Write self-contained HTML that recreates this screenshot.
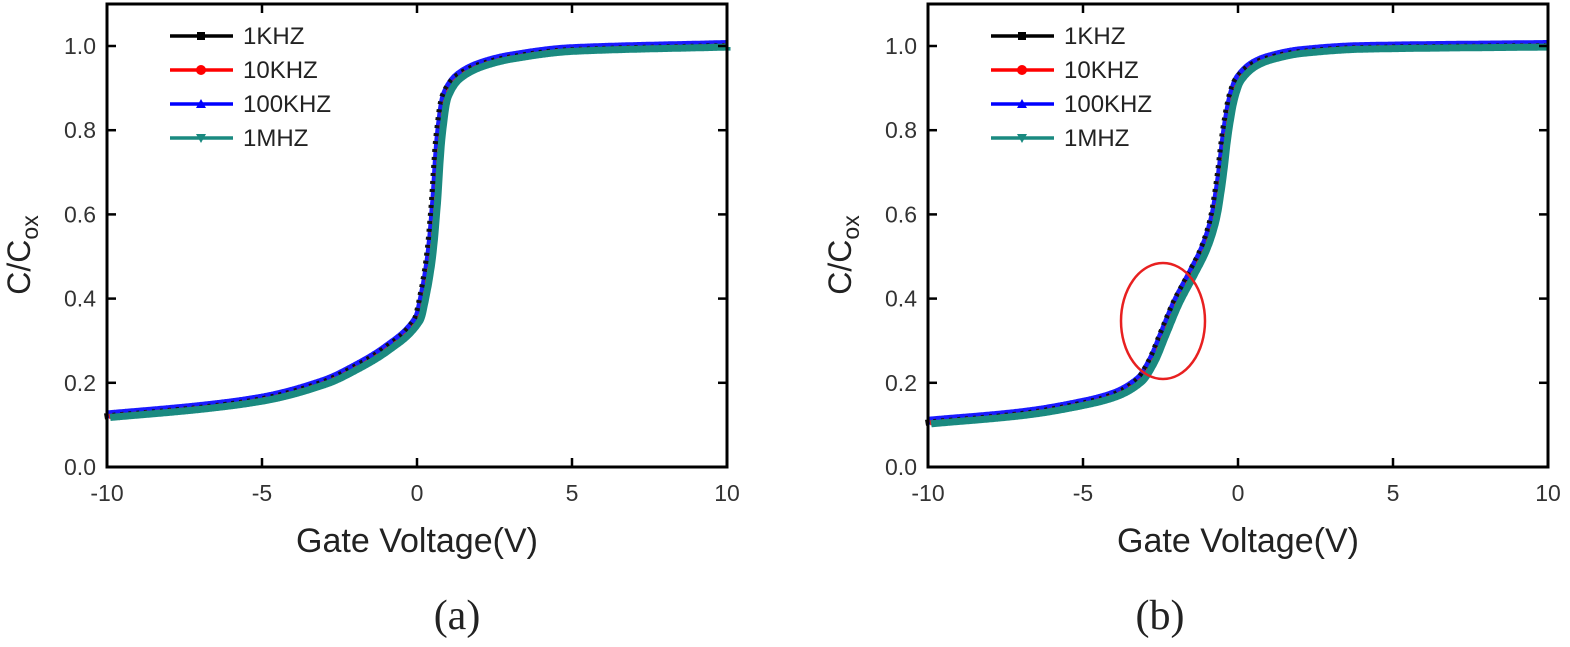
<!DOCTYPE html>
<html><head><style>body{margin:0;background:#fff}svg{display:block}</style></head>
<body>
<svg id="s" width="1570" height="647" xmlns="http://www.w3.org/2000/svg" font-family="Liberation Sans, Arial, sans-serif"></svg>
<script>
const s=document.getElementById('s');let h='';
function mono(pts){const n=pts.length,xs=pts.map(p=>p[0]),ys=pts.map(p=>p[1]);const d=[],m=[];
 for(let i=0;i<n-1;i++)d.push((ys[i+1]-ys[i])/(xs[i+1]-xs[i]));
 m[0]=d[0];m[n-1]=d[n-2];for(let i=1;i<n-1;i++){m[i]=(d[i-1]*d[i]<=0)?0:2/(1/d[i-1]+1/d[i]);}
 return x=>{let i=0;while(i<n-2&&x>xs[i+1])i++;const hh=xs[i+1]-xs[i],t=(x-xs[i])/hh;
  const h00=2*t*t*t-3*t*t+1,h10=t*t*t-2*t*t+t,h01=-2*t*t*t+3*t*t,h11=t*t*t-t*t;
  return h00*ys[i]+h10*hh*m[i]+h01*ys[i+1]+h11*hh*m[i+1];};}
const A=[[-10,0.12],[-7,0.14],[-5,0.16],[-3,0.2],[-2,0.235],[-1,0.28],[0,0.35],[0.2,0.41],[0.4,0.5],[0.55,0.62],[0.7,0.78],[0.9,0.88],[1.3,0.925],[2,0.953],[3,0.972],[5,0.99],[10,1.0]];
const B=[[-10,0.105],[-7,0.125],[-5,0.15],[-4,0.17],[-3.2,0.205],[-2.8,0.25],[-2.4,0.32],[-2,0.39],[-1.5,0.46],[-1.1,0.52],[-0.8,0.59],[-0.6,0.68],[-0.4,0.8],[-0.2,0.88],[0,0.92],[0.5,0.955],[1,0.97],[2,0.985],[4,0.995],[10,1.0]];
function panel(x0,x1,pts,lab,dx){
 const f=mono(pts);
 const y0=467,y1=46,yt=4;const X=v=>x0+(v+10)/20*(x1-x0),Y=v=>y0-(v)*(y0-y1);
 const path=(off,oy)=>{let d='';for(let v=-10;v<=10.001;v+=0.02){d+=(d?'L':'M')+X(Math.min(10,v+off)).toFixed(1)+','+(Y(f(v))+oy).toFixed(1);}return d;};
 h+=`<path d="${path(0,-2)}" stroke="#1a1aff" stroke-width="8" fill="none"/>`;
 h+=`<path d="${path(-0.08,0)}" stroke="#111" stroke-width="6" fill="none" stroke-dasharray="3 5"/>`;
 h+=`<path d="${path(0.06,0)}" stroke="#e82020" stroke-width="5" fill="none" stroke-dasharray="4 8"/>`;
 h+=`<path d="${path(0.1,1)}" stroke="#1a8a80" stroke-width="7" fill="none"/>`;
 h+=`<rect x="${x0}" y="${yt}" width="${x1-x0}" height="${y0-yt}" fill="none" stroke="#000" stroke-width="3"/>`;
 [-10,-5,0,5,10].forEach(v=>{const x=X(v);h+=`<line x1="${x}" y1="${y0}" x2="${x}" y2="${y0-9}" stroke="#000" stroke-width="2.5"/><line x1="${x}" y1="${yt}" x2="${x}" y2="${yt+9}" stroke="#000" stroke-width="2.5"/><text x="${x}" y="${y0+34}" font-size="23" fill="#333" text-anchor="middle">${v}</text>`;});
 [0,0.2,0.4,0.6,0.8,1.0].forEach(v=>{const y=Y(v);h+=`<line x1="${x0}" y1="${y}" x2="${x0+9}" y2="${y}" stroke="#000" stroke-width="2.5"/><line x1="${x1}" y1="${y}" x2="${x1-9}" y2="${y}" stroke="#000" stroke-width="2.5"/><text x="${x0-11}" y="${y+8}" font-size="23" fill="#333" text-anchor="end">${v.toFixed(1)}</text>`;});
 const cols=['#000','#f00','#00f','#1a8a80'],names=['1KHZ','10KHZ','100KHZ','1MHZ'];
 names.forEach((n,i)=>{const y=36+i*34,lx=x0+63;h+=`<line x1="${lx}" y1="${y}" x2="${lx+63}" y2="${y}" stroke="${cols[i]}" stroke-width="3.5"/>`;
  const cx=lx+31;
  if(i==0)h+=`<rect x="${cx-4}" y="${y-4}" width="8" height="8" fill="#000"/>`;
  if(i==1)h+=`<circle cx="${cx}" cy="${y}" r="5" fill="#f00"/>`;
  if(i==2)h+=`<polygon points="${cx-5},${y+4} ${cx+5},${y+4} ${cx},${y-5}" fill="#00f"/>`;
  if(i==3)h+=`<polygon points="${cx-5},${y-4} ${cx+5},${y-4} ${cx},${y+5}" fill="#1a8a80"/>`;
  h+=`<text x="${lx+73}" y="${y+8}" font-size="24" fill="#222">${n}</text>`;});
 h+=`<text transform="translate(${x0-77},255) rotate(-90)" font-size="32" fill="#222" text-anchor="middle">C/C<tspan font-size="23" dy="8">ox</tspan></text>`;
 h+=`<text x="${(x0+x1)/2}" y="552" font-size="34" fill="#222" text-anchor="middle">Gate Voltage(V)</text>`;
 h+=`<text x="${(x0+x1)/2+dx}" y="629" font-size="42" fill="#222" text-anchor="middle" font-family="Liberation Serif, serif">${lab}</text>`;
}
panel(107,727,A,'(a)',40);
panel(928,1548,B,'(b)',-78);
h+=`<ellipse cx="1163" cy="321" rx="42" ry="58" fill="none" stroke="#e82020" stroke-width="2.5"/>`;
s.innerHTML=h;
</script>
</body></html>
